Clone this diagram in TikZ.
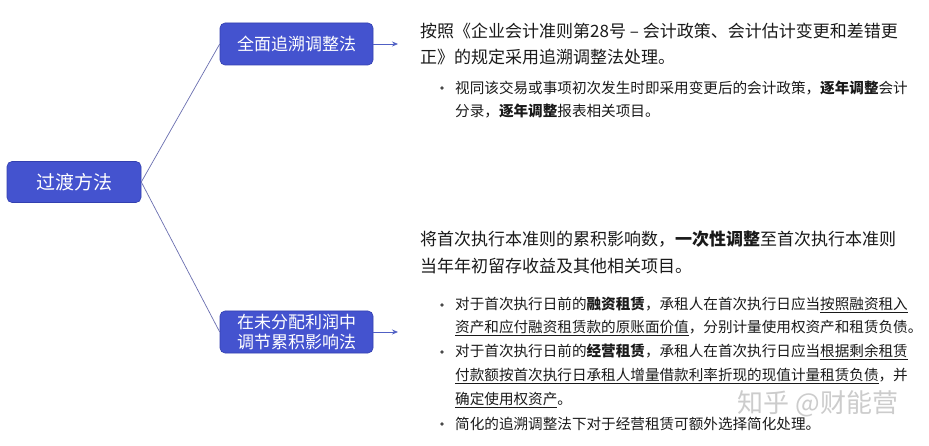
\documentclass[tikz,border=0pt]{standalone}
\usepackage{fontspec}
\setmainfont{Noto Sans CJK SC}
\usetikzlibrary{arrows.meta}
\definecolor{boxfill}{HTML}{4453CF}
\definecolor{boxline}{HTML}{3340B0}
\definecolor{conn}{HTML}{6A6FB0}
\definecolor{arr}{HTML}{5060C4}
\definecolor{txt}{HTML}{1A1A1A}
\tikzset{
  box/.style={rectangle, rounded corners=5pt, fill=boxfill, draw=boxline, line width=0.6pt,
    text=white, font=\fontsize{17}{21}\selectfont, align=center, inner sep=0pt},
  mainline/.style={anchor=west, inner sep=0pt, text=txt, font=\fontsize{17}{20}\selectfont},
  subline/.style={anchor=west, inner sep=0pt, text=txt, font=\fontsize{14.6}{18}\selectfont},
  bulletdot/.style={circle, fill=txt!80, inner sep=0pt, minimum size=3.8pt},
  link/.style={draw=conn, line width=0.7pt},
  pointer/.style={draw=arr, line width=0.8pt, -{Stealth[length=6pt,width=5pt]}},
  wmark/.style={anchor=center, inner sep=0pt, text=gray!40, font=\fontsize{26}{28}\selectfont}
}
\begin{document}
\begin{tikzpicture}[x=1pt, y=-1pt]
\useasboundingbox (0,0) rectangle (929,446);
\fill[white] (0,0) rectangle (929,446);
% boxes
\node[box, minimum width=134pt, minimum height=41pt, font=\fontsize{19}{22}\selectfont] (root) at (74,182) {过渡方法};
\node[box, minimum width=153pt, minimum height=42pt] (full) at (296.5,44) {全面追溯调整法};
\node[box, minimum width=153pt, minimum height=42pt] (cum) at (296.5,332) {在未分配利润中\\[-1pt]调节累积影响法};
% connectors
\draw[link] (root.east) -- (full.west);
\draw[link] (root.east) -- (cum.west);
\coordinate (fullend) at (398,44);
\coordinate (cumend) at (398,332);
\draw[pointer] (full.east) -- (fullend);
\draw[pointer] (cum.east) -- (cumend);
% upper text
\node[mainline] (t1a) at (420,31) {按照《企业会计准则第28号 – 会计政策、会计估计变更和差错更};
\node[mainline] (t1b) at (420,57) {正》的规定采用追溯调整法处理。};
\node[bulletdot] (d1) at (442,88) {};
\node[subline] (b1a) at (455,88) {视同该交易或事项初次发生时即采用变更后的会计政策，\textbf{逐年调整}会计};
\node[subline] (b1b) at (455,111) {分录，\textbf{逐年调整}报表相关项目。};
% lower text
\node[mainline] (t2a) at (420,239) {将首次执行本准则的累积影响数，\textbf{一次性调整}至首次执行本准则};
\node[mainline] (t2b) at (420,266) {当年年初留存收益及其他相关项目。};
\node[bulletdot] (d2) at (442,305) {};
\node[subline] (b2a) at (455,305) {对于首次执行日前的\textbf{融资租赁}，承租人在首次执行日应当\underline{按照融资租入}};
\node[subline] (b2b) at (455,328) {\underline{资产和应付融资租赁款的原账面价值}，分别计量使用权资产和租赁负债。};
\node[bulletdot] (d3) at (442,352) {};
\node[subline] (b3a) at (455,352) {对于首次执行日前的\textbf{经营租赁}，承租人在首次执行日应当\underline{根据剩余租赁}};
\node[subline] (b3b) at (455,376) {\underline{付款额按首次执行日承租人增量借款利率折现的现值计量租赁负债}，并};
\node[subline] (b3c) at (455,400) {\underline{确定使用权资产}。};
\node[bulletdot] (d4) at (442,424) {};
\node[subline] (b4) at (455,424) {简化的追溯调整法下对于经营租赁可额外选择简化处理。};
% watermark
\node[wmark] (wm) at (818,404) {知乎 @财能营};
\end{tikzpicture}
\end{document}
